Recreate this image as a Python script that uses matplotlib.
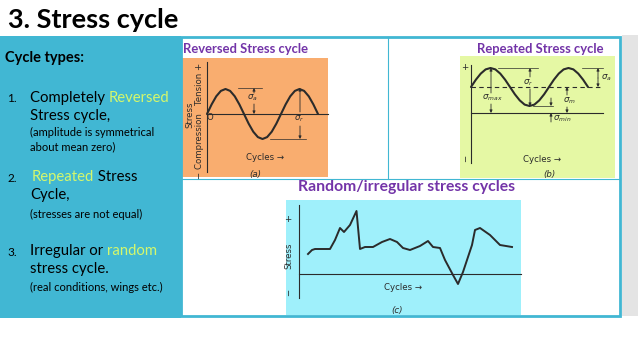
import matplotlib
matplotlib.use('Agg')
import matplotlib.pyplot as plt
from matplotlib.patches import Rectangle

# ---------------- data ----------------
# phase positions in sixteenths of a cycle (1.5 cycles shown)
phase_steps = [0, 1, 2, 3, 4, 5, 6, 7, 8, 9, 10, 11, 12, 13, 14, 15, 16,
               17, 18, 19, 20, 21, 22, 23, 24]
reversed_stress = [0, 9.6, 17.7, 23.1, 25, 23.1, 17.7, 9.6, 0, -9.6, -17.7,
                   -23.1, -25, -23.1, -17.7, -9.6, 0, 9.6, 17.7, 23.1, 25,
                   23.1, 17.7, 9.6, 0]
repeated_stress = [26, 33.3, 39.4, 43.6, 45, 43.6, 39.4, 33.3, 26, 18.7, 12.6,
                   8.4, 7, 8.4, 12.6, 18.7, 26, 33.3, 39.4, 43.6, 45, 43.6,
                   39.4, 33.3, 26]
random_cycles = [9, 13, 16, 24, 31, 36, 41, 45, 51, 57.5, 61, 66, 74, 83, 91,
                 98, 104, 111, 121, 129, 134, 141, 146, 154, 159, 164, 169,
                 173, 176, 181, 191, 201, 213]
random_stress = [20, 24, 25, 25, 25, 34, 46, 42, 49, 63, 25, 27, 27, 32, 35,
                 32, 26, 24, 28, 33, 27, 26, 14, -1, -10, 2, 17, 29, 44, 46,
                 39, 29, 27]

title = "3. Stress cycle"
panel_titles = ["Reversed Stress cycle", "Repeated Stress cycle",
                "Random/irregular stress cycles"]

# ---------------- styling ----------------
W, H = 638, 359
TEAL = '#41b7d3'
ORANGE = '#f9ad6f'
LIME = '#e5f8a4'
CYAN = '#9ff0fb'
GRAY = '#e4e4e4'
PURPLE = '#7334a8'
HILITE = '#d4f76c'
INK = '#2b2b2b'
FONT = 'Lato'

fig = plt.figure(figsize=(W / 100, H / 100), dpi=100)
bg = fig.add_axes([0, 0, 1, 1])
bg.set_xlim(0, W)
bg.set_ylim(H, 0)
bg.axis('off')


def rect(ax, x0, y0, x1, y1, **kw):
    ax.add_patch(Rectangle((x0, y0), x1 - x0, y1 - y0, **kw))


# backgrounds
rect(bg, 181, 37, 620, 316, facecolor='white', edgecolor='none')
rect(bg, 622, 35, 638, 316, facecolor=GRAY, edgecolor='none')
rect(bg, 182, 58, 328, 177, facecolor=ORANGE, edgecolor='none')
rect(bg, 460, 56, 615, 178, facecolor=LIME, edgecolor='none')
rect(bg, 286, 200, 521, 315, facecolor=CYAN, edgecolor='none')
# frame
rect(bg, 181, 37, 620, 316, facecolor='none', edgecolor=TEAL, linewidth=2)
bg.plot([388, 388], [37, 179], color=TEAL, lw=0.8)
bg.plot([181, 620], [179, 179], color=TEAL, lw=0.8)
rect(bg, 0, 36, 181, 318, facecolor=TEAL, edgecolor='none')

# title
bg.text(8, 20, title, fontsize=19.5, fontweight='bold', family=FONT,
        color='black', va='center', ha='left')

# panel titles
bg.text(183, 49, panel_titles[0], fontsize=9.4, fontweight='bold',
        family=FONT, color=PURPLE, va='center', ha='left')
bg.text(477, 49, panel_titles[1], fontsize=9.4, fontweight='bold',
        family=FONT, color=PURPLE, va='center', ha='left')
bg.text(407, 187, panel_titles[2], fontsize=11.3, fontweight='bold',
        family=FONT, color=PURPLE, va='center', ha='center')

# ---------------- left text column ----------------
renderer = fig.canvas.get_renderer()


def chain(x, y, parts, size, weight='normal'):
    for txt, col in parts:
        t = bg.text(x, y, txt, fontsize=size, family=FONT, color=col,
                    va='center', ha='left', fontweight=weight)
        bb = t.get_window_extent(renderer=renderer)
        x += bb.width  # pixel units == data units here


bg.text(5, 58, "Cycle types:", fontsize=10.5, fontweight='bold', family=FONT,
        color='black', va='center')
BIG, SMALL = 10.7, 8
for num, y in [("1.", 98), ("2.", 177), ("3.", 251)]:
    bg.text(7, y + 1, num, fontsize=8.5, family=FONT, color='black',
            va='center')
chain(30, 98, [("Completely ", 'black'), ("Reversed", HILITE)], BIG)
chain(30, 116, [("Stress cycle,", 'black')], BIG)
chain(30, 132, [("(amplitude is symmetrical", 'black')], SMALL)
chain(30, 147, [("about mean zero)", 'black')], SMALL)
chain(32, 177, [("Repeated", HILITE), (" Stress", 'black')], BIG)
chain(30, 195, [("Cycle,", 'black')], BIG)
chain(30, 214, [("(stresses are not equal)", 'black')], SMALL)
chain(30, 251, [("Irregular or ", 'black'), ("random", HILITE)], BIG)
chain(30, 269, [("stress cycle.", 'black')], BIG)
chain(30, 287, [("(real conditions, wings etc.)", 'black')], SMALL)


# ---------------- chart axes ----------------
def chart_axes(box, origin, sx, sy):
    x0, y0, x1, y1 = box
    ax = fig.add_axes([x0 / W, 1 - y1 / H, (x1 - x0) / W, (y1 - y0) / H])
    ox, oy = origin
    ax.set_xlim((x0 - ox) / sx, (x1 - ox) / sx)
    ax.set_ylim((oy - y1) / sy, (oy - y0) / sy)
    ax.axis('off')
    ax.patch.set_alpha(0)
    return ax


ax_a = chart_axes((182, 58, 328, 177), (207, 114), 74 / 16, 1.0)
ax_a.plot(phase_steps, reversed_stress, color=INK, lw=1.5,
          solid_capstyle='round')
ax_b = chart_axes((460, 56, 615, 178), (471, 113), 78 / 16, 1.0)
ax_b.plot(phase_steps, repeated_stress, color=INK, lw=1.5,
          solid_capstyle='round')
ax_c = chart_axes((286, 200, 521, 315), (299, 274), 1.0, 1.0)
ax_c.plot(random_cycles, random_stress, color=INK, lw=1.4,
          solid_joinstyle='round')

# ---------------- overlay: axes lines and annotations ----------------
top = fig.add_axes([0, 0, 1, 1])
top.set_xlim(0, W)
top.set_ylim(H, 0)
top.axis('off')
top.patch.set_alpha(0)
LW = 0.8
small = dict(fontsize=6.2, family='DejaVu Sans', color=INK)


def arrow(x, ya, yb):
    """arrow from ya to yb (head at yb)"""
    top.annotate('', xy=(x, yb), xytext=(x, ya),
                 arrowprops=dict(arrowstyle='-|>', lw=0.6, color=INK,
                                 mutation_scale=4, shrinkA=0, shrinkB=0))


def line(xs, ys, **kw):
    d = dict(color=INK, lw=0.6)
    d.update(kw)
    top.plot(xs, ys, **d)


# (a) reversed
line([207, 207], [62, 172], lw=LW)
line([207, 328], [114, 114], lw=LW)
line([238, 262], [88, 88], lw=0.5)
line([270, 306], [139, 139], lw=0.5)
arrow(254, 93, 88)
arrow(254, 104, 114)
top.text(252, 98, r'$\sigma_a$', ha='center', va='center', **small)
arrow(300, 112, 88)
arrow(300, 126, 139)
top.text(299, 119, r'$\sigma_r$', ha='center', va='center', **small)
top.text(210, 118, 'O', ha='center', va='center', **small)
top.text(190, 115, 'Stress', rotation=90, ha='center', va='center',
         **small)
top.text(200, 84, 'Tension +', rotation=90, ha='center', va='center',
         **small)
top.text(200, 146, '\u2212 Compression', rotation=90, ha='center',
         va='center', **small)
top.text(265, 158, 'Cycles \u2192', ha='center', va='center', **small)
top.text(255, 174, '(a)', ha='center', va='center', style='italic', **small)

# (b) repeated
line([471, 471], [65, 163], lw=LW)
line([471, 603], [113, 113], lw=LW)
line([471, 603], [87, 87], lw=LW, ls=(0, (4, 3)))
line([498, 538], [68, 68], lw=0.5)
line([582, 603], [68, 68], lw=0.5)
line([533, 553], [106, 106], lw=0.5)
arrow(598, 78, 68)
arrow(598, 78, 87)
top.text(606, 78, r'$\sigma_a$', ha='center', va='center', **small)
arrow(530, 77, 68)
arrow(530, 89, 106)
top.text(528, 83, r'$\sigma_r$', ha='center', va='center', **small)
arrow(491, 93, 68)
arrow(491, 104, 113)
top.text(492, 98, r'$\sigma_{max}$', ha='center', va='center', **small)
arrow(567, 95, 87)
arrow(567, 107, 113)
top.text(569, 101, r'$\sigma_m$', ha='center', va='center', **small)
arrow(551, 98, 106)
arrow(551, 122, 113)
top.text(562, 119, r'$\sigma_{min}$', ha='center', va='center', **small)
top.text(465, 68, '+', ha='center', va='center', **small)
top.text(465, 158, '\u2212', rotation=90, ha='center', va='center', **small)
top.text(542, 160, 'Cycles \u2192', ha='center', va='center', **small)
top.text(549, 175, '(b)', ha='center', va='center', style='italic', **small)

# (c) random
line([299, 299], [205, 298], lw=LW)
line([299, 521], [274, 274], lw=LW)
top.text(288, 220, '+', ha='center', va='center', **small)
top.text(289, 256, 'Stress', rotation=90, ha='center', va='center', **small)
top.text(288, 292, '\u2212', rotation=90, ha='center', va='center', **small)
top.text(403, 288, 'Cycles \u2192', ha='center', va='center', **small)
top.text(397, 311, '(c)', ha='center', va='center', style='italic', **small)

fig.savefig('out.png', dpi=100)
